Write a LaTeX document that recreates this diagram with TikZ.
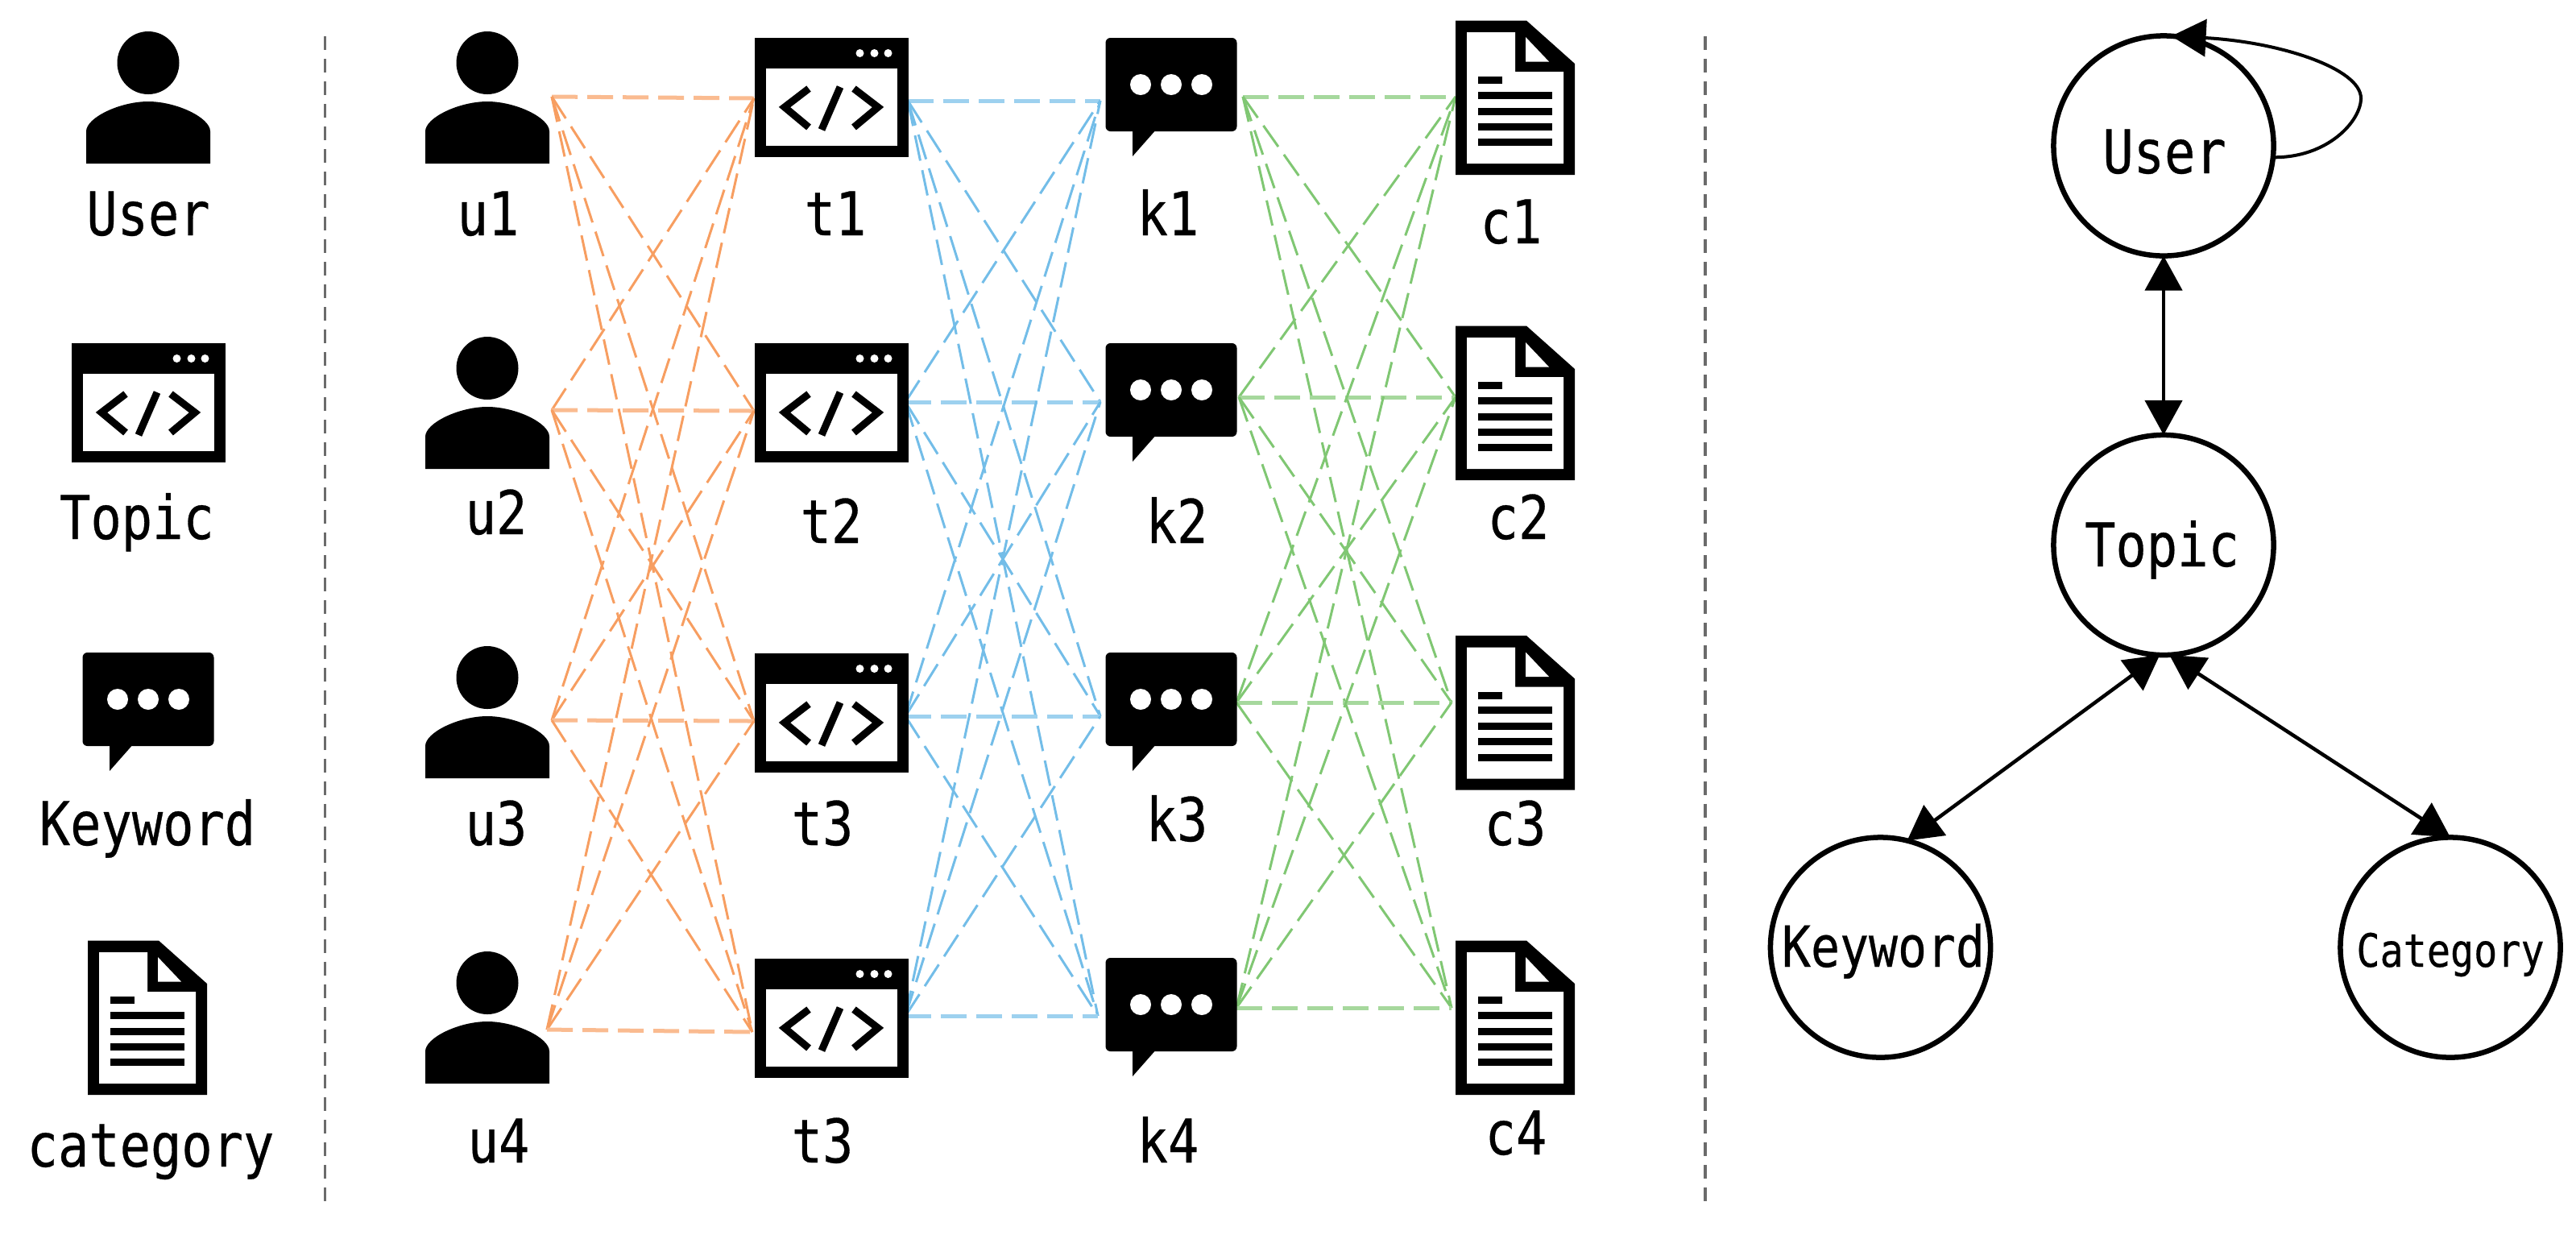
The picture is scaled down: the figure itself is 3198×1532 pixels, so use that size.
\documentclass[tikz,border=0pt]{standalone}
\usepackage{fontspec}
\usetikzlibrary{arrows.meta}
\newfontfamily\labelfont[FakeStretch=0.85,FakeBold=0.4]{DejaVu Sans Mono}
\definecolor{linkorange}{rgb}{0.97, 0.62, 0.38}
\definecolor{linkblue}{rgb}{0.45, 0.74, 0.91}
\definecolor{linkgreen}{rgb}{0.50, 0.78, 0.45}
\definecolor{splitgray}{rgb}{0.42, 0.42, 0.42}
\tikzset{
  iconfill/.style={fill=black, draw=none},
  iconhole/.style={fill=white, draw=none},
  linkdash/.style={dash pattern=on 0.32cm off 0.12cm},
  splitline/.style={color=splitgray, line width=0.035cm, dash pattern=on 0.17cm off 0.11cm},
  textlabel/.style={anchor=base, inner sep=0pt, font=\labelfont\fontsize{21.3pt}{25pt}\selectfont},
  vertex/.style={draw, circle, line width=0.065cm, minimum size=2.73cm, inner sep=0pt, outer sep=0pt},
  bothtips/.style={line width=0.045cm, {Triangle[length=0.43cm,width=0.46cm]}-{Triangle[length=0.43cm,width=0.46cm]}},
  endtip/.style={line width=0.04cm, -{Triangle[length=0.43cm,width=0.46cm]}},
  personicon/.pic={
    \fill[iconfill] (0,-43) circle [x radius=38.5, y radius=39];
    \fill[iconfill] (-77,82) -- (-77,42) .. controls (-77,25) and (-35,5) .. (0,5) .. controls (35,5) and (77,25) .. (77,42) -- (77,82) -- cycle;
  },
  topicicon/.pic={
    \fill[iconfill] (-95.5,-74) rectangle (95.5,74);
    \fill[iconhole] (-81.5,-36) rectangle (81.5,60);
    \foreach \dotx in {35.5,53.5,70.5} \fill[iconhole] (\dotx,-55) circle (5);
    \draw[line width=0.09cm] (-28,-11) -- (-58,12) -- (-28,37);
    \draw[line width=0.09cm] (11,-13) -- (-12,40);
    \draw[line width=0.09cm] (28,-11) -- (58,12) -- (28,37);
  },
  keywordicon/.pic={
    \fill[iconfill, rounded corners=0.06cm] (-81.5,-58) rectangle (81.5,58);
    \fill[iconfill] (-48,55) -- (-48,89) -- (-18,55) -- cycle;
    \foreach \dotx in {-38,0,38} \fill[iconhole] (\dotx,0) circle (13);
  },
  categoryicon/.pic={
    \fill[iconfill] (-74,-95.5) -- (14,-95.5) -- (74,-42) -- (74,96) -- (-74,96) -- cycle;
    \fill[iconhole] (-60,-81) -- (0,-81) -- (0,-32) -- (60,-32) -- (60,82) -- (-60,82) -- cycle;
    \fill[iconhole] (13,-75) -- (42,-44.5) -- (13,-44.5) -- cycle;
    \fill[iconfill] (-46,-26) rectangle (-16,-17);
    \foreach \liney in {-3,17,36,55.5} \fill[iconfill] (-46,\liney-4.5) rectangle (46,\liney+4.5);
  },
}

\begin{document}
\begin{tikzpicture}[x=0.01cm, y=-0.01cm]
\useasboundingbox (0,0) rectangle (3198,1532);

% ends of the links
\coordinate (u1_out) at (685,120);
\coordinate (u2_out) at (685,509);
\coordinate (u3_out) at (685,894);
\coordinate (u4_out) at (679,1278);
\coordinate (t1_in) at (936,122);
\coordinate (t2_in) at (936,510);
\coordinate (t3_in) at (936,895);
\coordinate (t4_in) at (934,1281);
\coordinate (t1_out) at (1127,125);
\coordinate (t2_out) at (1124,499);
\coordinate (t3_out) at (1124,889);
\coordinate (t4_out) at (1124,1261);
\coordinate (k1_in) at (1366,125);
\coordinate (k2_in) at (1366,499);
\coordinate (k3_in) at (1366,889);
\coordinate (k4_in) at (1363,1261);
\coordinate (k1_out) at (1543,120);
\coordinate (k2_out) at (1538,493);
\coordinate (k3_out) at (1535,872);
\coordinate (k4_out) at (1535,1251);
\coordinate (c1_in) at (1807,120);
\coordinate (c2_in) at (1807,493);
\coordinate (c3_in) at (1802,872);
\coordinate (c4_in) at (1802,1251);

% links, the level ones are wider and paler
\foreach \a in {1,2,3,4} {
  \foreach \b in {1,2,3,4} {
    \ifnum\a=\b \def\linkw{0.05cm}\def\linktint{70}\else \def\linkw{0.03cm}\def\linktint{100}\fi
    \draw[linkdash, line width=\linkw, color=linkorange!\linktint!white] (u\a_out) -- (t\b_in);
    \draw[linkdash, line width=\linkw, color=linkblue!\linktint!white] (t\a_out) -- (k\b_in);
    \draw[linkdash, line width=\linkw, color=linkgreen!\linktint!white] (k\a_out) -- (c\b_in);
  }
}

% split lines
\coordinate (split_a_top) at (403.5,45);
\coordinate (split_a_end) at (403.5,1498);
\coordinate (split_b_top) at (2117,45);
\coordinate (split_b_end) at (2117,1498);
\draw[splitline] (split_a_top) -- (split_a_end);
\draw[splitline] (split_b_top) -- (split_b_end);

% legend
\pic at (184,121) {personicon};
\pic at (184,500) {topicicon};
\pic at (184,868) {keywordicon};
\pic at (183,1263) {categoryicon};
\node[textlabel](user_text) at (184,292) {User};
\node[textlabel](topic_text) at (170,669) {Topic};
\node[textlabel](keyword_text) at (183,1049) {Keyword};
\node[textlabel](category_text) at (187,1448) {category};

% icons
\pic at (605,121) {personicon};
\pic at (605,500) {personicon};
\pic at (605,884) {personicon};
\pic at (605,1263) {personicon};
\pic at (1032,121) {topicicon};
\pic at (1032,500) {topicicon};
\pic at (1032,885) {topicicon};
\pic at (1032,1264) {topicicon};
\pic at (1454,105) {keywordicon};
\pic at (1454,484) {keywordicon};
\pic at (1454,868) {keywordicon};
\pic at (1454,1247) {keywordicon};
\pic at (1881,121) {categoryicon};
\pic at (1881,500) {categoryicon};
\pic at (1881,884.5) {categoryicon};
\pic at (1881,1263) {categoryicon};

% labels
\node[textlabel](u1_text) at (606,292) {u1};
\node[textlabel](u2_text) at (616,663) {u2};
\node[textlabel](u3_text) at (616,1049) {u3};
\node[textlabel](u4_text) at (619,1443) {u4};
\node[textlabel](t1_text) at (1037,292) {t1};
\node[textlabel](t2_text) at (1032,674) {t2};
\node[textlabel](t3_text) at (1021,1049) {t3};
\node[textlabel](t4_text) at (1021,1443) {t3};
\node[textlabel](k1_text) at (1450,292) {k1};
\node[textlabel](k2_text) at (1461,674) {k2};
\node[textlabel](k3_text) at (1461,1044) {k3};
\node[textlabel](k4_text) at (1450,1443) {k4};
\node[textlabel](c1_text) at (1876,302) {c1};
\node[textlabel](c2_text) at (1885,669) {c2};
\node[textlabel](c3_text) at (1881,1049) {c3};
\node[textlabel](c4_text) at (1882,1433) {c4};

% schema
\node[vertex](user) at (2686,181) {};
\node[vertex](topic) at (2686,676.5) {};
\node[vertex](keyword) at (2334.5,1176) {};
\node[vertex](category) at (3042,1176) {};
\node[textlabel](user_name) at (2687,215) {User};
\node[textlabel](topic_name) at (2684,703) {Topic};
\node[textlabel, font=\labelfont\fontsize{20pt}{24pt}\selectfont](keyword_name) at (2338,1200) {Keyword};
\node[textlabel, font=\labelfont\fontsize{16.2pt}{20pt}\selectfont](category_name) at (3042,1200) {Category};

\draw[bothtips] (user) -- (topic);
\draw[bothtips] (topic.268) -- (keyword.76);
\draw[bothtips] (topic.273) -- (category.north);
\draw[endtip] (user.-6) .. controls (2890,196) and (2931,150) .. (2931,122) .. controls (2931,85) and (2830,52) .. (user.86);

\end{tikzpicture}
\end{document}
